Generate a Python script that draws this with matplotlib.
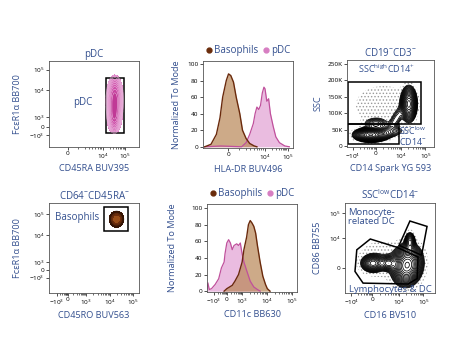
import numpy as np
import matplotlib
matplotlib.use("Agg")
import matplotlib.pyplot as plt
from matplotlib.patches import Rectangle, Polygon
from matplotlib.lines import Line2D
from matplotlib.colors import LinearSegmentedColormap

plt.rcParams['font.family'] = ['Open Sans', 'DejaVu Sans']
plt.rcParams['mathtext.fontset'] = 'custom'
plt.rcParams['mathtext.rm'] = 'Open Sans'
plt.rcParams['mathtext.it'] = 'Open Sans'
plt.rcParams['mathtext.bf'] = 'Open Sans'
plt.rcParams['hatch.color'] = '#9a9a9a'
plt.rcParams['hatch.linewidth'] = 0.6

BLUE = '#34508f'
BROWN_EDGE = '#6a2a0c'
BROWN_FILL = '#b98656'
PINK_EDGE = '#c0509c'
PINK_FILL = '#e3a6d6'

# ---- axis ticks (channel positions on a 0-100 display scale) ----
p1_xticks = [21, 60, 84]
p1_xlabels = ['0', '$10^4$', '$10^5$']
p1_yticks = [14, 23, 35, 66, 90]
p1_ylabels = ['$-10^3$', '0', '$10^3$', '$10^4$', '$10^5$']

p2_xticks = [28, 69, 94]
p2_xlabels = ['0', '$10^4$', '$10^5$']

p3_xticks = [7, 33, 62, 90]
p3_xlabels = ['$-10^4$', '0', '$10^4$', '$10^5$']
p3_yticks = [0, 50000, 100000, 150000, 200000, 250000]
p3_ylabels = ['0', '50K', '100K', '150K', '200K', '250K']

p4_xticks = [9, 21, 41, 68, 93]
p4_xlabels = ['$-10^3$', '0', '$10^3$', '$10^4$', '$10^5$']
p4_yticks = [17, 26, 34, 64, 88]
p4_ylabels = ['$-10^3$', '0', '$10^3$', '$10^4$', '$10^5$']

p5_xticks = [7.4, 22, 39, 67, 94]
p5_xlabels = ['$-10^3$', '0', '$10^3$', '$10^4$', '$10^5$']

p6_xticks = [7, 30, 60, 87]
p6_xlabels = ['$-10^4$', '0', '$10^4$', '$10^5$']
p6_yticks = [28, 61, 89]
p6_ylabels = ['0', '$10^4$', '$10^5$']

hist_yticks = [0, 20, 40, 60, 80, 100]

# ---- histograms (x in channel, y = % of mode) ----
hla_baso_x = [2, 9, 15, 19, 22, 26, 28.5, 31, 34, 37, 41, 44, 48, 52, 57, 60]
hla_baso_y = [0, 3, 15, 35, 60, 80, 88, 86, 78, 60, 40, 20, 10, 4, 1, 0]
hla_pdc_x = [2, 20, 43, 48, 52, 56, 58, 60, 62, 64, 66, 67.8, 69, 71, 73, 75, 78, 81, 85, 91, 96]
hla_pdc_y = [0, 1, 0, 5, 15, 28, 40, 48, 45, 50, 65, 72, 70, 55, 58, 40, 25, 12, 5, 1, 0]

cd11c_pdc_x = [0, 1, 2.5, 5, 9, 13, 16, 19, 20, 22, 24, 26, 28, 30, 33, 35, 37, 39, 41, 44, 48, 52, 56, 59]
cd11c_pdc_y = [3, 10, 2, 3, 8, 15, 28, 35, 45, 58, 62, 58, 50, 55, 57, 55, 58, 45, 35, 25, 12, 5, 2, 0]
cd11c_baso_x = [19, 22, 28, 31, 35, 39, 41, 44, 46, 48, 50, 52, 54, 56, 59, 62, 65, 67, 70]
cd11c_baso_y = [0, 3, 7, 12, 20, 35, 50, 65, 80, 85, 82, 78, 70, 55, 35, 18, 8, 3, 0]

# ---- populations for the dot/contour plots ----
pdc_cx = [73, 72.5]
pdc_cy = [55, 36]
pdc_sx = [3.9, 3.4]
pdc_sy = [11.5, 8.5]
pdc_w = [1.0, 0.7]

baso_cx = [75]
baso_cy = [82]
baso_sx = [3.3]
baso_sy = [3.7]
baso_w = [1.0]

cd14_cx = [27, 40, 33, 56, 71, 42]
cd14_cy = [34000, 40000, 68000, 80000, 128000, 125000]
cd14_sx = [7.5, 12, 7, 7, 3.8, 22]
cd14_sy = [8500, 10000, 9000, 28000, 22000, 40000]
cd14_rho = [0.0, 0.3, 0.0, 0.85, 0.0, 0.0]
cd14_w = [1.0, 0.12, 0.08, 0.05, 0.6, 0.015]

cd16_cx = [31, 48, 69, 72, 42]
cd16_cy = [33, 33, 31, 57, 38]
cd16_sx = [6.0, 4.5, 7.5, 2.8, 16]
cd16_sy = [4.5, 4.0, 10.0, 5.0, 12]
cd16_rho = [0.0, 0.0, 0.1, 0.0, 0.0]
cd16_w = [0.45, 0.3, 1.0, 0.3, 0.03]

# ---- gates ----
pdc_gate = [63, 16, 20, 64]          # x, y, width, height
baso_gate = [61, 69, 27, 27]
ssc_high_gate = [1.5, 0.26 * 262000, 83.5, 0.48 * 262000]
ssc_low_gate = [1.5, 0.02 * 262000, 58.5, 0.23 * 262000]
lymph_gate_x = [11, 13, 28, 57, 81, 80, 70, 20]
lymph_gate_y = [24, 48, 60, 51, 40, 16, 10, 11]
mono_gate_x = [72, 91, 85, 60]
mono_gate_y = [80, 74, 42, 53]


def density(xx, yy, cx, cy, sx, sy, w, rho=None):
    z = np.zeros_like(xx)
    if rho is None:
        rho = [0.0] * len(cx)
    for i in range(len(cx)):
        u = (xx - cx[i]) / sx[i]
        v = (yy - cy[i]) / sy[i]
        r = rho[i]
        z += w[i] * np.exp(-0.5 / (1 - r * r) * (u * u - 2 * r * u * v + v * v))
    return z / z.max()


def minors(ticks):
    out = []
    for a, b in zip(ticks[:-1], ticks[1:]):
        out += list(a + np.log10(np.arange(2, 10)) * (b - a))
    return out


def style(ax, xt, xl, yt, yl, xlabel, ylabel, ylab_x):
    ax.set_xticks(xt)
    ax.set_xticklabels(xl)
    ax.set_yticks(yt)
    ax.set_yticklabels(yl)
    ax.set_xticks(minors(xt), minor=True)
    ax.tick_params(which='major', length=2.2, width=0.6, labelsize=4.6, pad=1, color='#333333')
    ax.tick_params(which='minor', length=1.3, width=0.5, color='#333333')
    for s in ax.spines.values():
        s.set_linewidth(0.6)
        s.set_color('#555555')
    ax.set_xlabel(xlabel, color=BLUE, fontsize=6.6)
    ax.set_ylabel(ylabel, color=BLUE, fontsize=6.6)
    ax.xaxis.set_label_coords(0.5, -0.2)
    ax.yaxis.set_label_coords(ylab_x, 0.5)


fig = plt.figure(figsize=(4.74, 3.55), dpi=100)

ax1 = fig.add_axes([0.1034, 0.586, 0.19, 0.242])
ax2 = fig.add_axes([0.428, 0.583, 0.19, 0.245])
ax3 = fig.add_axes([0.732, 0.586, 0.184, 0.245])
ax4 = fig.add_axes([0.1034, 0.1746, 0.19, 0.2535])
ax5 = fig.add_axes([0.4367, 0.177, 0.19, 0.248])
ax6 = fig.add_axes([0.728, 0.1746, 0.19, 0.2535])

gx = np.linspace(0, 100, 300)
gy = np.linspace(0, 100, 300)
XX, YY = np.meshgrid(gx, gy)

# panel 1: pDC
z = density(XX, YY, pdc_cx, pdc_cy, pdc_sx, pdc_sy, pdc_w)
pink_cmap = LinearSegmentedColormap.from_list('pk', ['#d870bc', '#cc4aa6', '#bb3290'])
lev = np.geomspace(0.04, 1.0, 11)
ax1.contourf(XX, YY, z, levels=lev, cmap=pink_cmap)
ax1.contour(XX, YY, z, levels=lev[:-1], colors='#f0c8e6', linewidths=0.35)
ax1.add_patch(Rectangle(pdc_gate[:2], pdc_gate[2], pdc_gate[3], fill=False, lw=1.1, ec='black'))
ax1.text(38, 52, 'pDC', color=BLUE, fontsize=7, ha='center', va='center')
ax1.set_xlim(0, 100)
ax1.set_ylim(0, 100)
ax1.set_title('pDC', color=BLUE, fontsize=7, pad=3)
style(ax1, p1_xticks, p1_xlabels, p1_yticks, p1_ylabels, 'CD45RA BUV395', 'FcεR1α BB700', -0.3)

# panel 2: HLA-DR histogram
ax2.fill_between(hla_pdc_x, hla_pdc_y, color=PINK_FILL, alpha=0.75, lw=0)
ax2.plot(hla_pdc_x, hla_pdc_y, color=PINK_EDGE, lw=0.9)
ax2.fill_between(hla_baso_x, hla_baso_y, color=BROWN_FILL, alpha=0.7, lw=0)
ax2.plot(hla_baso_x, hla_baso_y, color=BROWN_EDGE, lw=1.0)
ax2.set_xlim(0, 100)
ax2.set_ylim(-1.5, 103.5)
style(ax2, p2_xticks, p2_xlabels, hist_yticks, [str(v) for v in hist_yticks],
      'HLA-DR BUV496', 'Normalized To Mode', -0.245)

# panel 3: SSC vs CD14
gy3 = np.linspace(0, 262000, 300)
XX3, YY3 = np.meshgrid(gx, gy3)
z = density(XX3, YY3, cd14_cx, cd14_cy, cd14_sx, cd14_sy, cd14_w, cd14_rho)
ax3.contourf(XX3, YY3, z, levels=[0.005, 0.03], colors='none', hatches=['.....'])
lev = np.geomspace(0.02, 0.95, 20)
ax3.contour(XX3, YY3, z, levels=lev, colors='black', linewidths=0.55)
ax3.add_patch(Rectangle(ssc_high_gate[:2], ssc_high_gate[2], ssc_high_gate[3], fill=False, lw=1.1, ec='black'))
ax3.add_patch(Rectangle(ssc_low_gate[:2], ssc_low_gate[2], ssc_low_gate[3], fill=False, lw=1.1, ec='black'))
ax3.text(45, 236000, r'SSC$^{\mathrm{high}}$CD14$^{+}$', color=BLUE, fontsize=6.6, ha='center', va='center')
ax3.text(75, 47000, r'SSC$^{\mathrm{low}}$', color=BLUE, fontsize=6.4, ha='center', va='center')
ax3.text(75, 14000, r'CD14$^{-}$', color=BLUE, fontsize=6.4, ha='center', va='center')
ax3.set_xlim(0, 100)
ax3.set_ylim(-3000, 262000)
ax3.set_title(r'CD19$^{-}$CD3$^{-}$', color=BLUE, fontsize=7, pad=3)
style(ax3, p3_xticks, p3_xlabels, p3_yticks, p3_ylabels, 'CD14 Spark YG 593', 'SSC', -0.28)

# panel 4: basophils
z = density(XX, YY, baso_cx, baso_cy, baso_sx, baso_sy, baso_w)
brown_cmap = LinearSegmentedColormap.from_list('br', ['#4a1e06', '#6a2c0c', '#b4601e'])
lev = np.geomspace(0.05, 1.0, 8)
ax4.contourf(XX, YY, z, levels=lev, cmap=brown_cmap)
ax4.contour(XX, YY, z, levels=lev[:3], colors='#2a1004', linewidths=0.4)
ax4.add_patch(Rectangle(baso_gate[:2], baso_gate[2], baso_gate[3], fill=False, lw=1.1, ec='black'))
ax4.text(31, 84, 'Basophils', color=BLUE, fontsize=7, ha='center', va='center')
ax4.set_xlim(0, 100)
ax4.set_ylim(0, 100)
ax4.set_title(r'CD64$^{-}$CD45RA$^{-}$', color=BLUE, fontsize=7, pad=3)
style(ax4, p4_xticks, p4_xlabels, p4_yticks, p4_ylabels, 'CD45RO BUV563', 'FcεR1α BB700', -0.3)

# panel 5: CD11c histogram
ax5.fill_between(cd11c_pdc_x, cd11c_pdc_y, color=PINK_FILL, alpha=0.75, lw=0)
ax5.plot(cd11c_pdc_x, cd11c_pdc_y, color=PINK_EDGE, lw=0.9)
ax5.fill_between(cd11c_baso_x, cd11c_baso_y, color=BROWN_FILL, alpha=0.7, lw=0)
ax5.plot(cd11c_baso_x, cd11c_baso_y, color=BROWN_EDGE, lw=1.0)
ax5.set_xlim(0, 100)
ax5.set_ylim(-1.2, 104.8)
style(ax5, p5_xticks, p5_xlabels, hist_yticks, [str(v) for v in hist_yticks],
      'CD11c BB630', 'Normalized To Mode', -0.33)

# panel 6: CD86 vs CD16
z = density(XX, YY, cd16_cx, cd16_cy, cd16_sx, cd16_sy, cd16_w, cd16_rho)
ax6.contourf(XX, YY, z, levels=[0.008, 0.05], colors='none', hatches=['.....'])
lev = np.geomspace(0.04, 0.95, 20)
ax6.contour(XX, YY, z, levels=lev, colors='black', linewidths=0.55)
ax6.add_patch(Polygon(np.column_stack([lymph_gate_x, lymph_gate_y]), closed=True, fill=False, lw=1.1, ec='black'))
ax6.add_patch(Polygon(np.column_stack([mono_gate_x, mono_gate_y]), closed=True, fill=False, lw=1.1, ec='black'))
ax6.text(3, 95, 'Monocyte-\nrelated DC', color=BLUE, fontsize=6.8, ha='left', va='top', linespacing=1.0)
ax6.text(4, 4, 'Lymphocytes & DC', color=BLUE, fontsize=6.8, ha='left', va='center')
ax6.set_xlim(0, 100)
ax6.set_ylim(0, 100)
ax6.set_title(r'SSC$^{\mathrm{low}}$CD14$^{-}$', color=BLUE, fontsize=7, pad=3)
style(ax6, p6_xticks, p6_xlabels, p6_yticks, p6_ylabels, 'CD16 BV510', 'CD86 BB755', -0.26)

# legends above the histograms
for ax in [ax2, ax5]:
    handles = [Line2D([], [], marker='o', ls='', color='#6a2c0c', markersize=3.5),
               Line2D([], [], marker='o', ls='', color='#d77ec2', markersize=3.5)]
    leg = ax.legend(handles, ['Basophils', 'pDC'], loc='lower center', bbox_to_anchor=(0.5, 0.99),
                    ncol=2, frameon=False, fontsize=7, handletextpad=0.1, columnspacing=0.4,
                    handlelength=0.8, borderaxespad=0.2)
    for t in leg.get_texts():
        t.set_color(BLUE)

fig.savefig('out.png', dpi=100)
